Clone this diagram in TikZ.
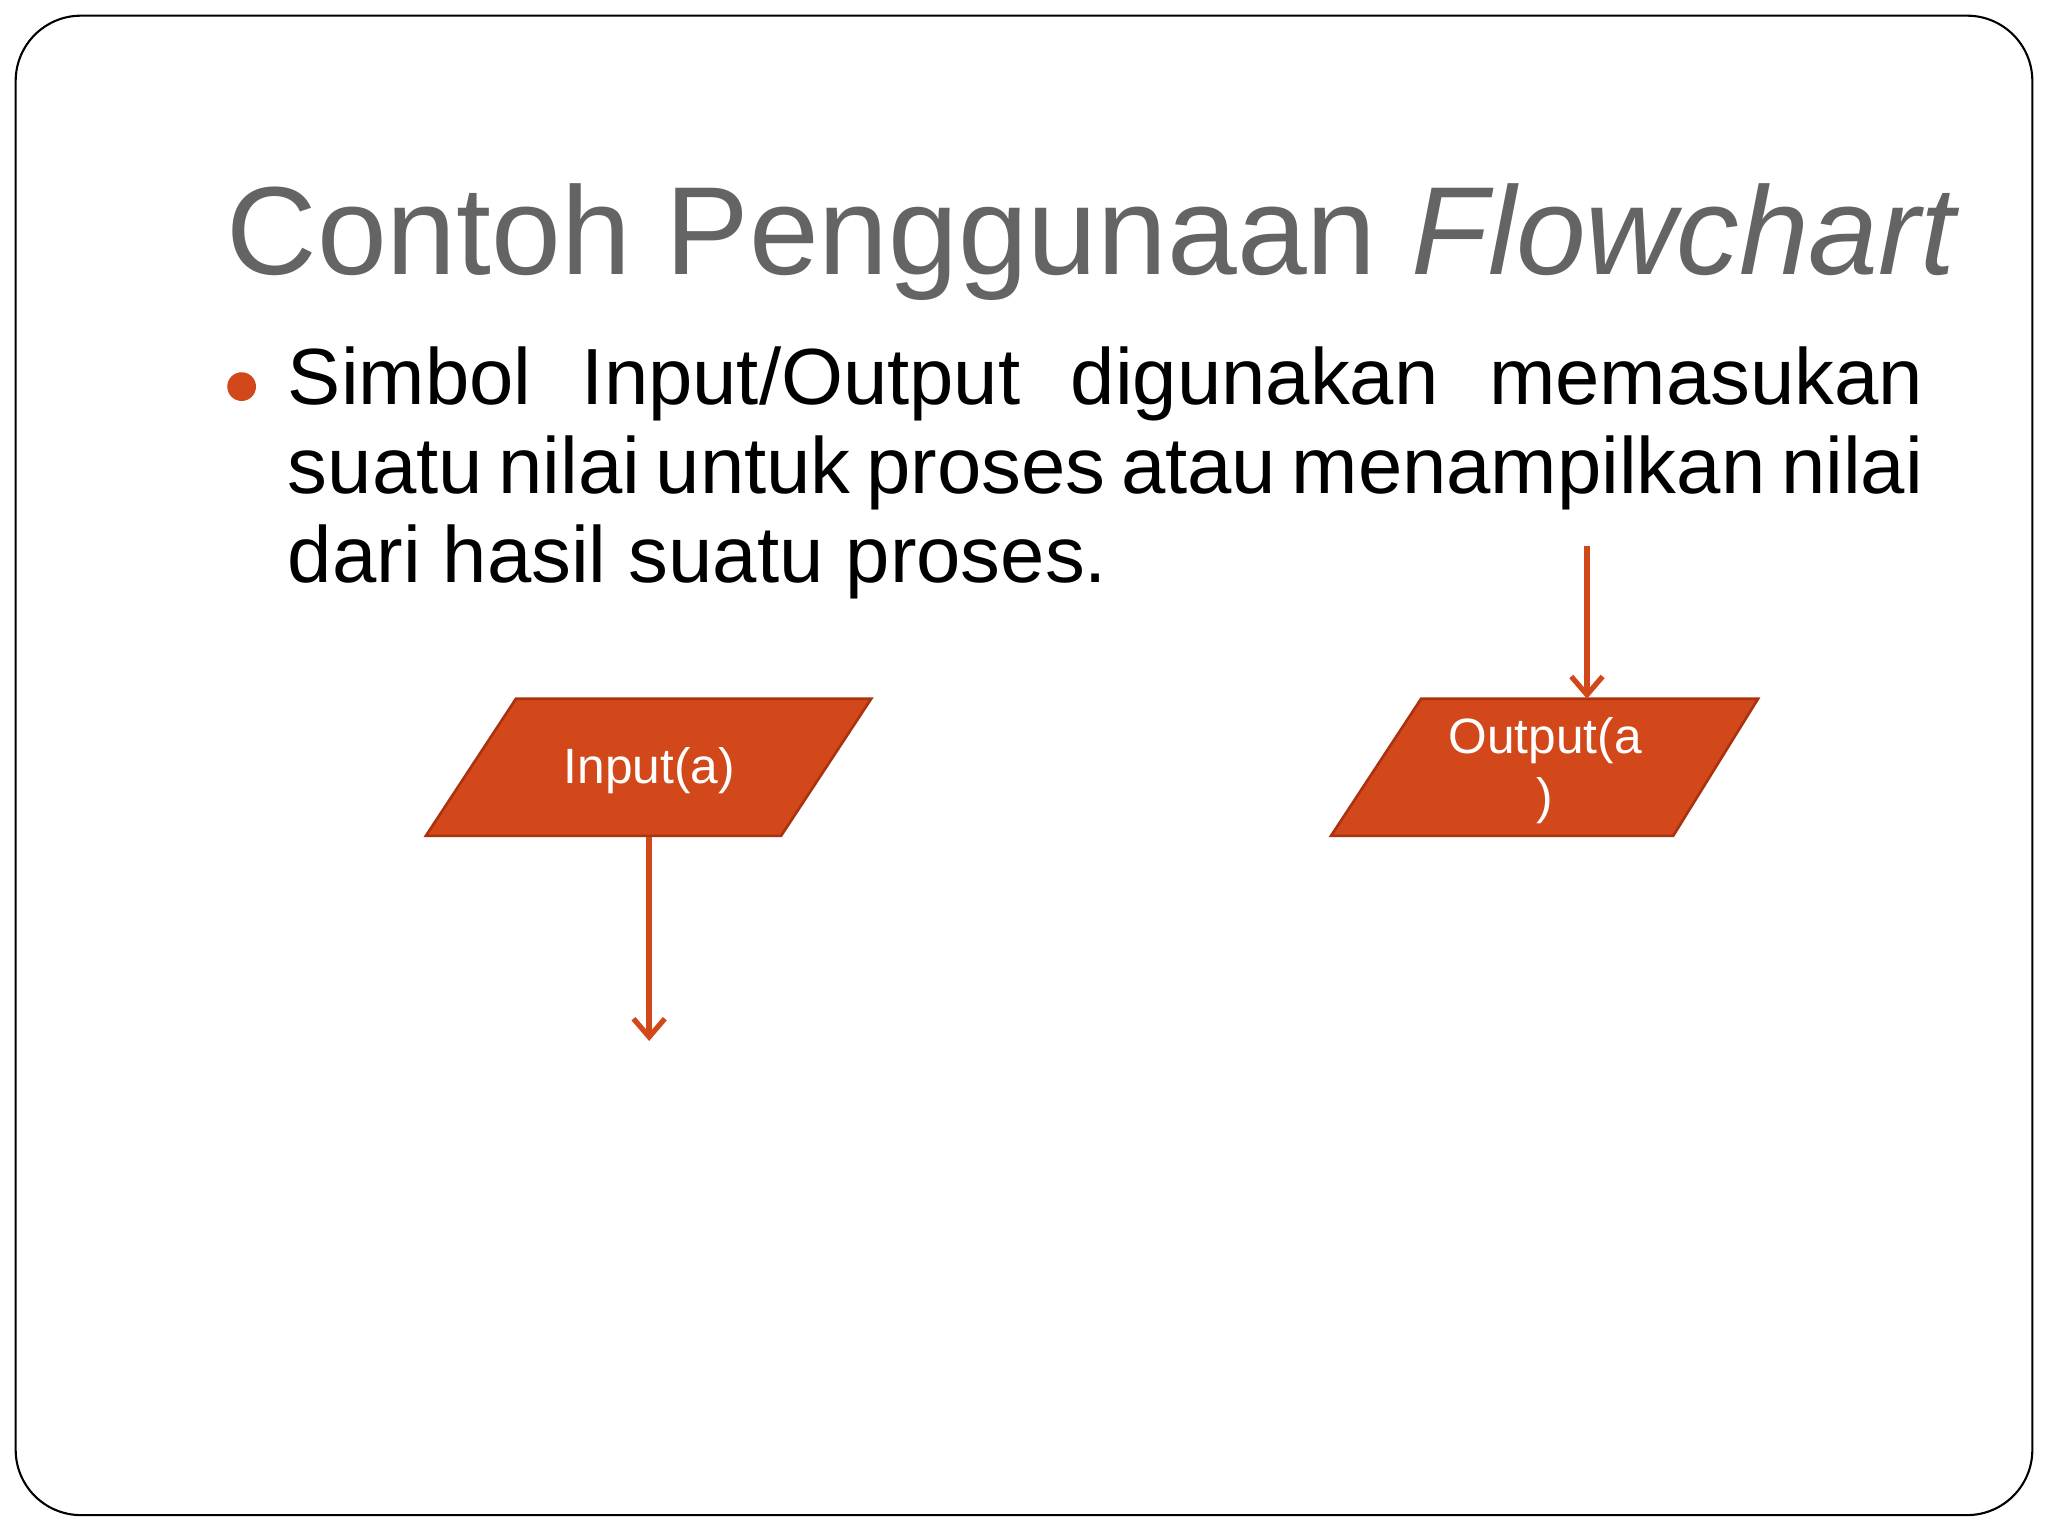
\documentclass[tikz,border=0pt]{standalone}
\usepackage{fontspec}
\setmainfont{Liberation Sans}
\usetikzlibrary{arrows.meta}
\definecolor{orng}{RGB}{210,72,26}
\definecolor{orngd}{RGB}{170,50,15}
\definecolor{ttl}{RGB}{100,100,100}
\tikzset{io/.style={fill=orng,draw=orngd,line width=1pt},
 iotext/.style={text=white,font=\fontsize{19}{23}\selectfont,align=center},
 flow/.style={draw=orng,line width=2.2pt,-{Straight Barb[length=7pt,width=12pt,line width=2pt]}}}
\begin{document}
\begin{tikzpicture}[x=0.5pt,y=-0.5pt]
\useasboundingbox (0,0) rectangle (1568,1176);
\fill[white] (0,0) rectangle (1568,1176);
\draw[line width=0.8pt,rounded corners=25pt] (12,12) rectangle (1556,1160);
\node[anchor=base west,text=ttl,font=\fontsize{48}{56}\selectfont,inner sep=0] (title) at (173,210) {Contoh Penggunaan \textit{Flowchart}};
\fill[orng] (185,296) circle (5.5pt);
\node[anchor=north west,inner sep=0,text width=626pt,align=justify,font=\fontsize{30.5}{34}\selectfont] (body) at (220,265)
 {Simbol Input/Output digunakan memasukan suatu nilai untuk proses atau menampilkan nilai dari hasil suatu proses.};
\draw[io] (326,640)--(395,535)--(667,535)--(598,640)--cycle;
\node[iotext] (in) at (497,590) {Input(a)};
\draw[io] (1019,640)--(1088,535)--(1346,535)--(1281,640)--cycle;
\node[iotext] (out) at (1183,590) {Output(a\\)};
\coordinate (inb) at (497,641);
\coordinate (inend) at (497,797);
\coordinate (ostart) at (1215,418);
\coordinate (otop) at (1215,535);
\draw[flow] (inb) -- (inend);
\draw[flow] (ostart) -- (otop);
\end{tikzpicture}
\end{document}
